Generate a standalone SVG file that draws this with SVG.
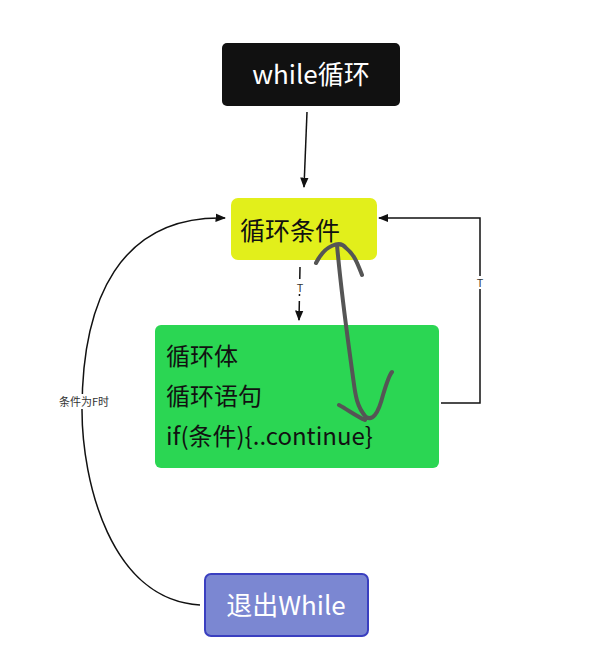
<svg xmlns="http://www.w3.org/2000/svg" width="605" height="661" viewBox="0 0 605 661">
<defs>
<marker id="ah" viewBox="0 0 10 10" refX="9" refY="5" markerWidth="7" markerHeight="7" orient="auto"><path d="M0,1 L10,5 L0,9 Z" fill="#111"/></marker>
<style>
.t{font-family:"Noto Sans CJK SC","Liberation Sans",sans-serif}
.c{fill:none;stroke:#111;stroke-width:1.5}
.lbl{font-family:"Noto Sans CJK SC","Liberation Sans",sans-serif;font-size:11px;fill:#333;text-anchor:middle}
</style>
</defs>
<rect width="605" height="661" fill="#fff"/>
<g id="connectors">
<path class="c" d="M307,112 L304,187" marker-end="url(#ah)"/>
<path class="c" d="M300,267 L299,320" stroke-dasharray="12,5" marker-end="url(#ah)"/>
<rect x="294" y="281" width="12" height="13" fill="#fff"/>
<text class="lbl" x="300" y="292">T</text>
<path class="c" d="M441,403 L480,403 L480,218 L379,218" marker-end="url(#ah)"/>
<rect x="474" y="276" width="12" height="13" fill="#fff"/>
<text class="lbl" x="480" y="287">T</text>
<path class="c" d="M200,605 C110,600 82,480 82,410 C82,300 120,215 225,218" marker-end="url(#ah)"/>
<rect x="52" y="394" width="62" height="15" fill="#fff"/>
<text class="lbl" x="84" y="406">条件为F时</text>
</g>
<g id="while">
<rect x="222" y="43" width="178" height="63" rx="5" fill="#111"/>
<text class="t" x="311" y="84" font-size="26" fill="#fff" text-anchor="middle">while循环</text>
</g>
<g id="cond">
<rect x="231" y="198" width="146" height="62" rx="7" fill="#e2ef1b"/>
<text class="t" x="290" y="240" font-size="25" fill="#111" text-anchor="middle">循环条件</text>
</g>
<g id="body">
<rect x="155" y="325" width="284" height="143" rx="6" fill="#2bd653"/>
<text class="t" x="166" y="365" font-size="24" fill="#111">循环体</text>
<text class="t" x="166" y="405" font-size="24" fill="#111">循环语句</text>
<text class="t" x="166" y="445" font-size="24" fill="#111">if(条件){..continue}</text>
</g>
<g id="exit">
<rect x="205" y="574" width="163" height="62" rx="6" fill="#7b87d2" stroke="#3a3fc0" stroke-width="2"/>
<text class="t" x="286" y="615" font-size="26" fill="#fff" text-anchor="middle">退出While</text>
</g>
<path d="M316,263 C325,245 340,240 346,248 C355,255 358,265 362,275 M337,245 C342,300 348,340 352,370 C355,390 355,405 366,417 C372,421 378,415 383,395 C386,385 389,375 392,372 M339,405 C348,410 358,417 365,420" fill="none" stroke="#555" stroke-width="4" stroke-linecap="round"/>
</svg>
